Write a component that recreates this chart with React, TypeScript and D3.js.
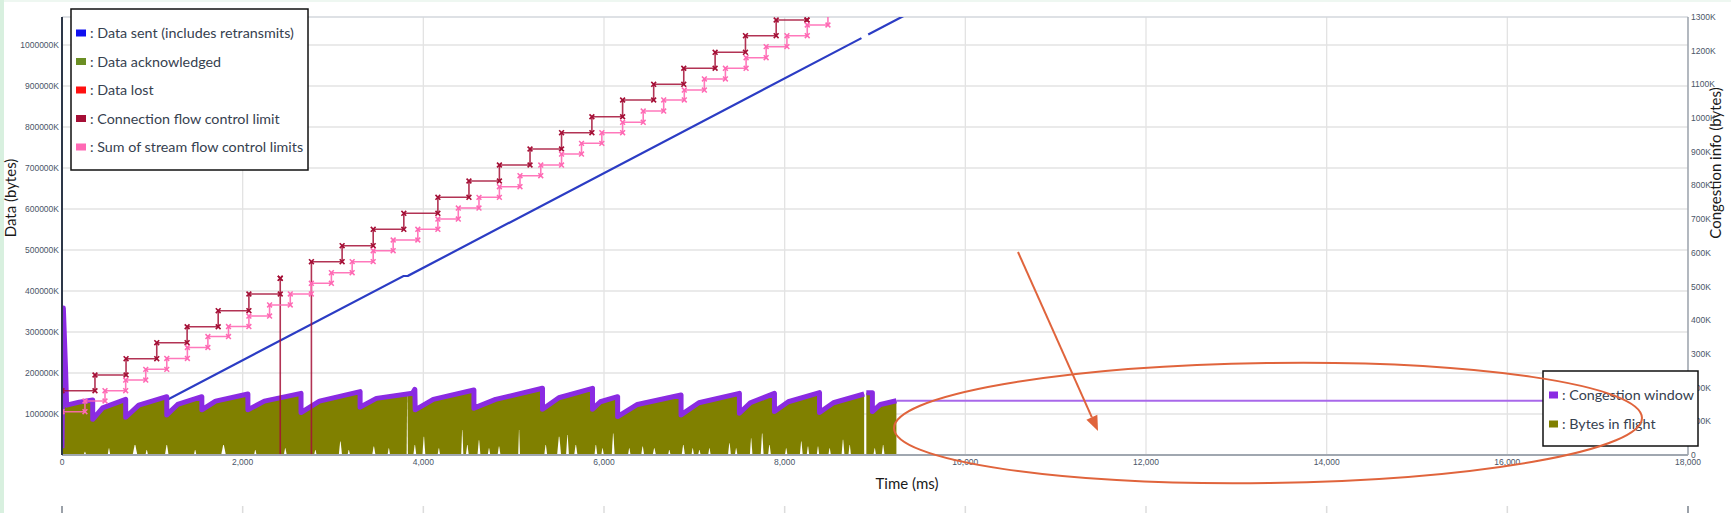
import React from 'react';
import * as d3 from 'd3';

const W = 1731;
const H = 513;

// ---- axes ----
const xTicks = [0, 2000, 4000, 6000, 8000, 10000, 12000, 14000, 16000, 18000];
const leftTicks = [100000, 200000, 300000, 400000, 500000, 600000, 700000, 800000, 900000, 1000000];
const rightTicks = [0, 100, 200, 300, 400, 500, 600, 700, 800, 900, 1000, 1100, 1200, 1300];

// ---- Data sent (K bytes), null = gap ----
const sentTimes = [0, 3780, 3830, 8850, 8880, 8925, 9400];
const sentValues: (number | null)[] = [0, 436600, 437000, 1016800, null, 1025500, 1080400];

// ---- Connection flow control limit (step) ----
const connTimes = [0, 365, 709, 1049, 1385, 1729, 2069, 2416, 2416, 2761, 3101, 3445, 3784, 4161, 4505, 4842, 5181, 5530, 5866, 6206, 6550, 6883, 7230, 7566, 7906, 8247];
const connValues = [156800, 195100, 234900, 273900, 312900, 352000, 392700, 431000, 0, 471500, 510500, 550500, 589500, 628500, 668300, 707300, 746300, 786100, 825100, 865900, 904100, 943200, 982200, 1022700, 1061000, 1061000];

// ---- Sum of stream flow control limits (step) ----
const streamTimes = [0, 254, 476, 705, 927, 1160, 1388, 1615, 1843, 2069, 2298, 2527, 2760, 2982, 3212, 3445, 3666, 3939, 4161, 4387, 4616, 4842, 5070, 5300, 5530, 5751, 5976, 6206, 6434, 6661, 6889, 7111, 7344, 7573, 7795, 8025, 8250, 8479];
const streamValues = [105600, 131700, 156800, 182900, 209000, 235400, 262200, 289000, 313400, 339000, 365900, 392700, 418800, 444600, 471500, 498300, 524400, 550500, 575600, 602400, 628500, 654400, 681200, 707300, 734100, 760200, 786100, 811500, 839000, 865900, 890200, 917100, 943200, 969000, 995900, 1022700, 1048800, 1075000];

// ---- Congestion window (K bytes, right axis), null = gap ----
const cwndTimes = [0, 15, 40, 51, 190, 340, 340, 450, 705, 705, 850, 1160, 1160, 1280, 1548, 1548, 1700, 2058, 2058, 2240, 2646, 2646, 2850, 3300, 3300, 3480, 3880, 3906, 3910, 4110, 4560, 4560, 4800, 5319, 5319, 5500, 5873, 5873, 5960, 6151, 6151, 6370, 6853, 6853, 7050, 7499, 7499, 7620, 7887, 7887, 8040, 8386, 8386, 8540, 8880, 8892, 8904, 8971, 8971, 9060, 9237, 18000];
const cwndValues: (number | null)[] = [20, 436, 250, 148, 157, 163, 106, 140, 165, 112, 148, 173, 119, 150, 173, 134, 160, 181, 134, 160, 183, 126, 160, 188, 142, 168, 183, 195, 134, 165, 193, 139, 165, 198, 136, 170, 198, 136, 158, 173, 114, 150, 178, 119, 155, 183, 124, 155, 183, 129, 158, 185, 126, 155, 181, null, 185, 185, 129, 150, 161, 161];
const inFlightEnd = 9237;

// ---- Bytes in flight: moments where it never went to zero (white notches) ----
const dipTimes = [254, 520, 808, 938, 1160, 1474, 1788, 2140, 2472, 2805, 3082, 3175, 3452, 3618, 3822, 3906, 4006, 4172, 4431, 4487, 4616, 4727, 4838, 5060, 5355, 5503, 5596, 5688, 5910, 5984, 6102, 6280, 6428, 6557, 6723, 6878, 6982, 7056, 7167, 7389, 7463, 7629, 7751, 7832, 8017, 8184, 8258, 8369, 8498, 8646, 8720, 8997, 9090];
const dipHeights = [10, 20, 30, 15, 30, 15, 30, 15, 20, 15, 40, 15, 25, 20, 176, 30, 54, 20, 74, 30, 44, 20, 25, 74, 30, 54, 59, 30, 30, 20, 64, 20, 25, 20, 15, 30, 20, 15, 20, 35, 20, 50, 64, 30, 20, 40, 25, 25, 20, 45, 30, 20, 30];
const dipSpans = [14, 14, 26, 14, 20, 14, 26, 14, 16, 14, 18, 14, 18, 14, 7, 16, 16, 14, 12, 16, 16, 14, 16, 10, 16, 22, 16, 18, 16, 14, 16, 14, 16, 18, 14, 18, 14, 14, 14, 16, 14, 14, 16, 16, 14, 16, 14, 14, 14, 16, 14, 14, 16];

const legendTop = [
  { label: ': Data sent (includes retransmits)', color: '#1010f0' },
  { label: ': Data acknowledged', color: '#6b8e23' },
  { label: ': Data lost', color: '#ff1010' },
  { label: ': Connection flow control limit', color: '#a50f36' },
  { label: ': Sum of stream flow control limits', color: '#ff69b4' },
];
const legendBottom = [
  { label: ': Congestion window', color: '#8a2be2' },
  { label: ': Bytes in flight', color: '#808000' },
];

type P = { t: number; v: number } | null;

function stepPoints(T: number[], V: number[], fromZero: boolean): P[] {
  const pts: P[] = [];
  for (let i = 0; i < T.length; i++) {
    if (i > 0) pts.push({ t: T[i], v: V[i - 1] });
    else if (fromZero) pts.push({ t: T[0], v: 0 });
    pts.push({ t: T[i], v: V[i] });
    if (V[i] === 0 && i < T.length - 1) pts.push(null);
  }
  return pts;
}

export default function App() {
  const x = d3.scaleLinear().domain([0, 18000]).range([62, 1688]);
  const yL = d3.scaleLinear().domain([0, 1068300]).range([455, 17]);
  const yR = d3.scaleLinear().domain([0, 1300]).range([455, 17]);
  const x0 = x(0), x1 = x(18000), yb = yL(0), yt = yL.range()[1];

  const lineL = d3.line<P>().defined((d) => d !== null).x((d) => x(d!.t)).y((d) => yL(d!.v));
  const lineR = d3.line<P>().defined((d) => d !== null).x((d) => x(d!.t)).y((d) => yR(d!.v));
  const areaR = d3.area<P>().defined((d) => d !== null).x((d) => x(d!.t)).y0(yR(0)).y1((d) => yR(d!.v));

  const sentPts: P[] = sentTimes.map((t, i) => (sentValues[i] === null ? null : { t, v: sentValues[i] as number }));
  const cwndPts: P[] = cwndTimes.map((t, i) => (cwndValues[i] === null ? null : { t, v: cwndValues[i] as number }));
  const flightPts = cwndPts.filter((d) => d === null || d.t <= inFlightEnd);
  const cwndThin = cwndPts.filter((d) => d === null || d.t >= inFlightEnd);

  const connPts = stepPoints(connTimes, connValues, false);
  const streamPts = stepPoints(streamTimes, streamValues, true);

  const dipPaths = dipTimes.map((t, i) => {
    const s = dipSpans[i];
    return areaR([{ t: t - s, v: 0 }, { t: t - s * 0.15, v: dipHeights[i] }, { t: t + s * 0.15, v: dipHeights[i] }, { t: t + s, v: 0 }]) as string;
  });

  const fmtX = d3.format(',');
  const cross = 'M-2.4,-2.4L2.4,2.4M-2.4,2.4L2.4,-2.4';

  // annotation
  const ax1 = 1018, ay1 = 252, ax2 = 1098, ay2 = 431;
  const ang = Math.atan2(ay2 - ay1, ax2 - ax1);
  const hl = 15, hw = 6;
  const bx = ax2 - hl * Math.cos(ang), by = ay2 - hl * Math.sin(ang);
  const head = `M${ax2},${ay2}L${bx + hw * Math.sin(ang)},${by - hw * Math.cos(ang)}L${bx - hw * Math.sin(ang)},${by + hw * Math.cos(ang)}Z`;

  const tickFont = { fontFamily: "'Liberation Sans', Arial, sans-serif", fontSize: 8.5, fill: '#4a5568' };
  const labelFont = { fontFamily: 'Lato, sans-serif', fontSize: 14.3, fill: '#36414f' };
  const titleFont = { fontFamily: 'Lato, sans-serif', fontSize: 15, fill: '#1a1a1a' };

  return (
    <svg width={W} height={H} style={{ position: 'absolute', left: 0, top: 0, background: '#fff' }}>
      <rect x={0} y={0} width={W} height={H} fill="#fff" />
      <rect x={0} y={0} width={W} height={2} fill="#eef7f1" />
      <rect x={0} y={0} width={4} height={H} fill="#d8f0df" />
      <defs>
        <clipPath id="plot">
          <rect x={x0} y={yt} width={x1 - x0} height={yb - yt} />
        </clipPath>
      </defs>

      {/* grid */}
      {leftTicks.map((v) => (
        <line key={'gh' + v} x1={x0} x2={x1} y1={yL(v)} y2={yL(v)} stroke="#e3e3e3" strokeWidth={1.3} />
      ))}
      {xTicks.slice(1, -1).map((t) => (
        <line key={'gv' + t} x1={x(t)} x2={x(t)} y1={yt} y2={yb} stroke="#e3e3e3" strokeWidth={1.3} />
      ))}
      <line x1={x0} x2={x1} y1={yt} y2={yt} stroke="#d3d7dc" strokeWidth={1.5} />

      <g clipPath="url(#plot)">
        <path d={lineL(sentPts) as string} fill="none" stroke="#2b3cc4" strokeWidth={2.2} />
        <path d={areaR(flightPts) as string} fill="#808000" />
        {dipPaths.map((d, i) => (
          <path key={'dip' + i} d={d} fill="#fff" />
        ))}
        <path d={lineR(cwndThin) as string} fill="none" stroke="#a868ea" strokeWidth={2} />
        <path d={lineR(flightPts) as string} fill="none" stroke="#8a2be2" strokeWidth={5} strokeLinejoin="round" />
        <path d={lineL(connPts) as string} fill="none" stroke="#a50f36" strokeWidth={1.6} strokeOpacity={0.85} />
        {connPts.filter((d) => d && d.v > 0).map((d, i) => (
          <path key={'cm' + i} d={cross} transform={`translate(${x(d!.t)},${yL(d!.v)})`} stroke="#a50f36" strokeWidth={1.6} />
        ))}
        <path d={lineL(streamPts) as string} fill="none" stroke="#ff69b4" strokeWidth={1.6} strokeOpacity={0.9} />
        {streamPts.filter((d) => d && d.v > 0).map((d, i) => (
          <path key={'sm' + i} d={cross} transform={`translate(${x(d!.t)},${yL(d!.v)})`} stroke="#ff69b4" strokeWidth={1.5} />
        ))}
      </g>

      {/* axes */}
      <line x1={x0} x2={x1} y1={yb} y2={yb} stroke="#a0a7b0" strokeWidth={2} />
      <line x1={x1} x2={x1} y1={yt} y2={yb} stroke="#a0a7b0" strokeWidth={1.6} />
      <line x1={x0} x2={x0} y1={yt} y2={yb} stroke="#2d3748" strokeWidth={2} />

      {leftTicks.map((v) => (
        <text key={'lt' + v} x={x0 - 3} y={yL(v)} dy="0.35em" textAnchor="end" {...tickFont}>
          {v + 'K'}
        </text>
      ))}
      {rightTicks.map((v) => (
        <text key={'rt' + v} x={x1 + 3} y={yR(v)} dy="0.35em" textAnchor="start" {...tickFont}>
          {v === 0 ? '0' : v + 'K'}
        </text>
      ))}
      {xTicks.map((t) => (
        <text key={'xt' + t} x={x(t)} y={yb + 7} dy="0.35em" textAnchor="middle" {...tickFont}>
          {fmtX(t)}
        </text>
      ))}

      <text x={907} y={484} dy="0.35em" textAnchor="middle" {...titleFont}>Time (ms)</text>
      <text transform="translate(11,198) rotate(-90)" dy="0.35em" textAnchor="middle" {...titleFont}>Data (bytes)</text>
      <text transform="translate(1716,163) rotate(-90)" dy="0.35em" textAnchor="middle" {...titleFont}>Congestion info (bytes)</text>

      {/* stubs of the chart below */}
      {xTicks.map((t, i) => (
        <line key={'stub' + t} x1={x(t)} x2={x(t)} y1={506} y2={H} stroke={i === 0 || i === xTicks.length - 1 ? '#7a828c' : '#dcdcdc'} strokeWidth={1.5} />
      ))}

      {/* legends */}
      <g>
        <rect x={71} y={9} width={237} height={161} fill="#fff" stroke="#111" strokeWidth={1.5} />
        {legendTop.map((d, i) => (
          <g key={d.label} transform={`translate(76,${33 + i * 28.5})`}>
            <rect x={0} y={-3.5} width={10} height={7} fill={d.color} />
            <text x={14} y={0} dy="0.35em" {...labelFont}>{d.label}</text>
          </g>
        ))}
      </g>
      <g>
        <rect x={1543} y={371} width={155} height={75} fill="#fff" stroke="#111" strokeWidth={1.5} />
        {legendBottom.map((d, i) => (
          <g key={d.label} transform={`translate(1549,${395 + i * 29})`}>
            <rect x={0} y={-3.5} width={9} height={7} fill={d.color} />
            <text x={13} y={0} dy="0.35em" {...labelFont}>{d.label}</text>
          </g>
        ))}
      </g>

      {/* annotation */}
      <line x1={ax1} y1={ay1} x2={bx} y2={by} stroke="#e0643c" strokeWidth={2} />
      <path d={head} fill="#e0643c" />
      <ellipse cx={1268} cy={423} rx={374} ry={60} fill="none" stroke="#e0643c" strokeWidth={2} transform="rotate(-0.8,1268,423)" />
    </svg>
  );
}
